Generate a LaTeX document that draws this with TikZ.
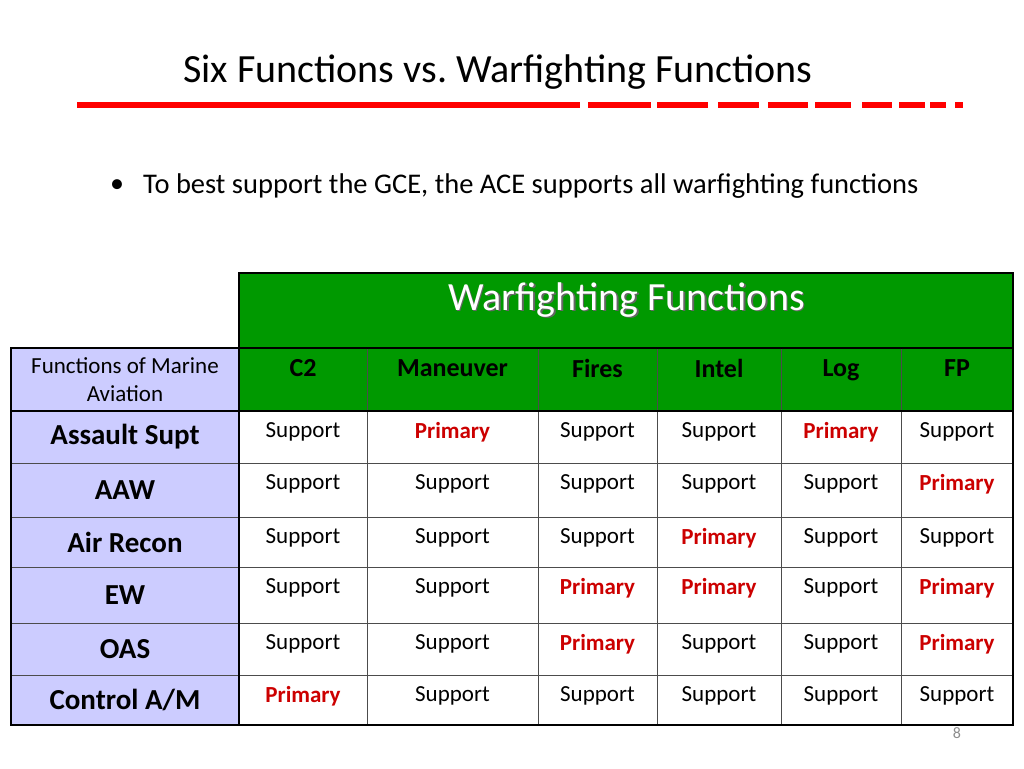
\documentclass[tikz,border=0pt]{standalone}
\usepackage{fontspec}
\setmainfont{Carlito}
\usetikzlibrary{positioning}
\definecolor{wfgreen}{RGB}{0,153,0}
\definecolor{lav}{RGB}{204,204,255}
\definecolor{slred}{RGB}{255,0,0}
\definecolor{pri}{RGB}{204,0,0}
\tikzset{
  cell/.style={anchor=north,inner sep=0pt,font=\fontsize{23}{25}\selectfont},
  rowlab/.style={inner sep=0pt,font=\fontsize{29}{31}\selectfont\bfseries},
  colhead/.style={anchor=north,inner sep=0pt,font=\fontsize{26}{28}\selectfont\bfseries},
  grid/.style={draw=black!70,line width=0.8pt},
  frame/.style={draw=black,line width=2.5pt}
}
\newcommand{\prim}{\textcolor{pri}{\bfseries Primary}}
\begin{document}
\begin{tikzpicture}[x=1pt,y=-1pt]
\useasboundingbox (0,0) rectangle (1024,768);
% title and rule
\node (title) at (498,72) {\fontsize{40}{44}\selectfont Six Functions vs.\ Warfighting Functions};
\fill[slred] (77,102) rectangle (580,108);
\foreach \a/\b in {588/651,657/708,718/759,768/808,815/851,862/892,899/925,930/946,955/963}
  \fill[slred] (\a,102) rectangle (\b,108);
\node[anchor=west,inner sep=0pt] (bullet) at (110,186) {\fontsize{28}{30}\selectfont\textbullet};
\node[anchor=west,inner sep=0pt] (point) at (143,186) {\fontsize{28.5}{30}\selectfont To best support the GCE, the ACE supports all warfighting functions};
% fills
\fill[wfgreen] (239,273) rectangle (1013,411);
\fill[lav] (11,348) rectangle (239,725);
% inner grid
\foreach \y in {463,517,567,623,675}
  \draw[grid] (11,\y) -- (1013,\y);
\foreach \x in {367,538,657,781,901}
  \draw[grid] (\x,348) -- (\x,725);
\draw[grid] (239,348) -- (1013,348);
% frames
\draw[frame] (239,273) rectangle (1013,411);
\draw[frame] (11,348) rectangle (1013,725);
\draw[frame] (239,348) -- (239,725);
\draw[frame] (11,411) -- (1013,411);
% headers
\node[font=\fontsize{40}{44}\selectfont] (wfshadow) at (628,301.5) {\textcolor{black!60}{Warfighting Functions}};
\node[white,font=\fontsize{40}{44}\selectfont] (wf) at (626.5,300) {Warfighting Functions};
\node[align=center,font=\fontsize{23}{28}\selectfont] (fma) at (125,380) {Functions of Marine\\Aviation};
\foreach \c/\x/\t in {c1/303/C2,c2/452.5/Maneuver,c3/597.5/Fires,c4/719/Intel,c5/841/Log,c6/957/FP}
  \node[colhead] (\c) at (\x,359) {\t};
% rows
\foreach \r/\ya/\yb/\lab/\v in {
  r1/411/463/{Assault Supt}/{{Support},{\prim},{Support},{Support},{\prim},{Support}},
  r2/463/517/{AAW}/{{Support},{Support},{Support},{Support},{Support},{\prim}},
  r3/517/567/{Air Recon}/{{Support},{Support},{Support},{\prim},{Support},{Support}},
  r4/567/623/{EW}/{{Support},{Support},{\prim},{\prim},{Support},{\prim}},
  r5/623/675/{OAS}/{{Support},{Support},{\prim},{Support},{Support},{\prim}},
  r6/675/725/{Control A/M}/{{\prim},{Support},{Support},{Support},{Support},{Support}}}{
  \node[rowlab] (\r) at (125,{(\ya+\yb)/2}) {\lab};
  \foreach \t [count=\i] in \v {
    \pgfmathsetmacro{\cx}{{303,452.5,597.5,719,841,957}[\i-1]}
    \node[cell] (\r c\i) at (\cx,\ya+11) {\t};
  }
}
\node[text=black!45,font=\fontsize{16}{18}\selectfont] (page) at (957,733) {8};
\end{tikzpicture}
\end{document}
